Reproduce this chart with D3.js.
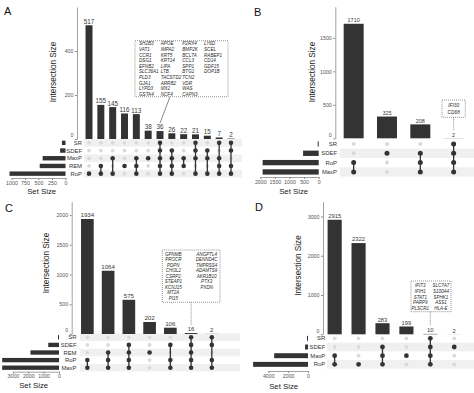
<!DOCTYPE html>
<html><head><meta charset="utf-8">
<script src="https://cdn.jsdelivr.net/npm/d3@7"></script>
<style>body{margin:0;background:#fff;} svg{display:block;font-family:Arial,"Liberation Sans",sans-serif;}</style>
</head><body><svg id="c" width="474" height="393"></svg>
<script>
// ---------- Panel A ----------
const setsA = ["SR","SDEF","MaxP","REM","RoP"];
const setSizesA = [66,100,423,477,1037];
const countsA = [517,155,145,116,113,38,36,26,22,21,15,7,2];
const membersA = [["RoP"],["REM","RoP"],["MaxP","RoP"],["REM"],["MaxP","REM","RoP"],["MaxP"],
  ["SR","SDEF","MaxP","REM","RoP"],["SDEF","MaxP","REM","RoP"],["MaxP","REM"],
  ["SR","SDEF","MaxP","RoP"],["SDEF","MaxP","RoP"],["SR","MaxP","REM","RoP"],["SR","SDEF","REM","RoP"]];
const yTicksA = [0,200,400];
const sizeTicksA = [1000,750,500,250,0];
const genesA = [["SH2B3","VAT1","CCR1","DSG1","EFNB2","SLC36A1","PLD3","GJA1","LYPD3","GSTA4"],
  ["APOE","IMPA2","KRT5","KRT14","LIPA","LTB","TACSTD2","ARRB2","MX2","NCF4"],
  ["P2RX4","BMP2K","BCL7A","CCL3","SPP1","BTG1","TCN2","VDR","WAS","CAPN3"],
  ["LY6D","SCEL","RABEP1","CD14","GDF15","DOP1B"]];
// ---------- Panel B ----------
const setsB = ["SR","SDEF","RoP","MaxP"];
const setSizesB = [2,535,1920,1920];
const countsB = [1710,325,208,2];
const membersB = [["RoP","MaxP"],["SDEF"],["SDEF","RoP","MaxP"],["SR","SDEF","RoP","MaxP"]];
const yTicksB = [0,500,1000,1500];
const sizeTicksB = [2000,1500,1000,500,0];
const genesB = [["IFI30","CD68"]];
// ---------- Panel C ----------
const setsC = ["SR","SDEF","REM","RoP","MaxP"];
const setSizesC = [18,699,1857,3697,3697];
const countsC = [1934,1064,575,202,106,16,2];
const membersC = [["RoP","MaxP"],["REM","RoP","MaxP"],["SDEF","REM","RoP","MaxP"],["REM"],
  ["SDEF","RoP","MaxP"],["SR","SDEF","REM","RoP","MaxP"],["SR","SDEF","RoP","MaxP"]];
const yTicksC = [0,500,1000,1500,2000];
const sizeTicksC = [3000,2000,1000,0];
const genesC = [["GPNMB","PROCR","PDPN","CHI3L2","CSRP2","STEAP1","KCNJ15","MT2A","PI15"],
  ["ANGPTL4","DENND4C","TMPRSS4","ADAMTS9","AKR1B10","PTX3","PXDN"]];
// ---------- Panel D ----------
const setsD = ["SR","SDEF","MaxP","RoP"];
const setSizesD = [10,295,3407,5530];
const countsD = [2915,2322,283,199,10,2];
const membersD = [["MaxP","RoP"],["RoP"],["SDEF","MaxP","RoP"],["MaxP"],["SR","SDEF","MaxP","RoP"],["SDEF"]];
const yTicksD = [0,1000,2000,3000];
const sizeTicksD = [4000,2000,0];
const genesD = [["IFIT3","IFIH1","STAT1","PARP9","PLSCR1"],["SLC7A7","S100A4","SPHK1","ASS1","HLA-E"]];

const svg = d3.select("#c");
const DARK = "#333333";
const fmt = d3.format("d");

function drawUpset(d, L){
  const g = svg.append("g");
  g.append("text").attr("x",L.lx).attr("y",L.ly).text(L.letter)
    .attr("font-size",11).attr("fill","#111");
  const n = d.counts.length;
  const x = d3.scaleBand().domain(d3.range(n)).range(L.colRange).paddingInner(L.pad).paddingOuter(L.pad/2);
  const y = d3.scaleLinear().domain([0,L.yMax]).range([L.base,L.top]);
  const rows = d3.scaleBand().domain(d.sets).range(L.rowRange);
  const sx = d3.scaleLinear().domain([0,L.sizeMax]).range(L.sizeRange);
  const cy = s => rows(s) + rows.bandwidth()/2;

  // stripes
  d.sets.forEach((s,i)=>{
    if((d.sets.length-1-i)%2===0)
      g.append("rect").attr("class","stripe").attr("x",L.stripe[0]).attr("width",L.stripe[1]-L.stripe[0])
        .attr("y",rows(s)).attr("height",rows.bandwidth()).attr("fill","#f0f0f0");
  });

  // y axis
  const ya = g.append("g").attr("transform",`translate(${L.axisX},0)`)
    .call(d3.axisLeft(y).tickValues(d.yTicks).tickFormat(fmt).tickSize(2).tickSizeOuter(0).tickPadding(1.5));
  ya.select(".domain").attr("stroke","#8a8a8a").attr("stroke-width",0.8);
  ya.selectAll(".tick line").attr("stroke","#8a8a8a");
  ya.selectAll("text").attr("font-size",5.3).attr("fill","#555").attr("font-family","Arial");
  ya.selectAll(".tick").filter(v=>v===0).select("text").attr("dy","-0.4em");

  g.append("text").attr("transform",`translate(${L.yTitle[0]},${L.yTitle[1]}) rotate(-90)`)
    .attr("text-anchor","middle").attr("dominant-baseline","central")
    .attr("font-size",8.2).attr("fill","#222").text("Intersection Size");

  // bars
  g.selectAll("rect.bar").data(d.counts).join("rect").attr("class","bar")
    .attr("x",(v,i)=>x(i)).attr("width",x.bandwidth())
    .attr("y",v=>y(v)).attr("height",v=>L.base-y(v)).attr("fill",DARK);
  g.selectAll("text.bl").data(d.counts).join("text").attr("class","bl")
    .attr("x",(v,i)=>x(i)+x.bandwidth()/2).attr("y",v=>y(v)-1.6)
    .attr("text-anchor","middle").attr("font-size",L.lf).attr("fill","#3a3a3a").text(v=>v);

  // matrix
  d.members.forEach((m,i)=>{
    const cx = x(i)+x.bandwidth()/2;
    d.sets.forEach(s=>{
      if(!m.includes(s)) g.append("circle").attr("cx",cx).attr("cy",cy(s)).attr("r",L.r*0.8).attr("fill","#dadada");
    });
    const ys = m.map(cy);
    if(m.length>1) g.append("line").attr("x1",cx).attr("x2",cx)
      .attr("y1",d3.min(ys)).attr("y2",d3.max(ys)).attr("stroke",DARK).attr("stroke-width",1.3);
    m.forEach(s=>g.append("circle").attr("cx",cx).attr("cy",cy(s)).attr("r",L.r).attr("fill",DARK));
  });

  // row labels
  d.sets.forEach(s=>g.append("text").attr("x",L.labelX).attr("y",cy(s)).attr("text-anchor","end")
    .attr("dominant-baseline","central").attr("font-size",5.9).attr("fill","#333").text(s));

  // set size bars
  const bh = rows.bandwidth()*0.57;
  g.selectAll("rect.sb").data(d.setSizes).join("rect").attr("class","sb")
    .attr("x",v=>Math.min(sx(v), sx(0)-1)).attr("width",v=>Math.max(1, sx(0)-sx(v)))
    .attr("y",(v,i)=>cy(d.sets[i])-bh/2).attr("height",bh).attr("fill",DARK);
  const sa = g.append("g").attr("transform",`translate(0,${L.sizeAxisY})`)
    .call(d3.axisBottom(sx).tickValues(d.sizeTicks).tickFormat(fmt).tickSize(2).tickSizeOuter(0).tickPadding(1));
  sa.select(".domain").attr("stroke","#8a8a8a").attr("stroke-width",0.8);
  sa.selectAll(".tick line").attr("stroke","#8a8a8a");
  sa.selectAll("text").attr("font-size",5.3).attr("fill","#555").attr("font-family","Arial");
  g.append("text").attr("x",L.sizeTitle[0]).attr("y",L.sizeTitle[1]).attr("text-anchor","middle")
    .attr("dominant-baseline","central").attr("font-size",7.8).attr("fill","#222").text("Set Size");

  // annotation box
  const B = L.box;
  g.append("rect").attr("x",B.x).attr("y",B.y).attr("width",B.w).attr("height",B.h)
    .attr("fill","#fff").attr("stroke","#666").attr("stroke-width",0.7).attr("stroke-dasharray","1,1");
  d.genes.forEach((col,ci)=>{
    col.forEach((gname,ri)=>{
      g.append("text").attr("x",B.cols[ci]).attr("y",B.row0+ri*B.dy)
        .attr("text-anchor",B.anchor).attr("dominant-baseline","central")
        .attr("font-size",B.fs).attr("font-style","italic").attr("fill","#2a2a2a").text(gname);
    });
  });
  const tx = x(L.target)+x.bandwidth()/2;
  const ty = y(d.counts[L.target]) - 8;
  g.append("line").attr("x1",L.pointerX===undefined?tx:L.pointerX).attr("y1",B.y+B.h)
    .attr("x2",tx).attr("y2",ty).attr("stroke","#555").attr("stroke-width",0.7)
    .attr("stroke-dasharray",L.pointerDash||null);
}

drawUpset({sets:setsA,setSizes:setSizesA,counts:countsA,members:membersA,yTicks:yTicksA,sizeTicks:sizeTicksA,genes:genesA},
  {letter:"A",lx:4,ly:15,axisX:77,top:7,base:139,yMax:600,colRange:[83.1,236.9],pad:0.41,
   rowRange:[139,177.5],sizeRange:[65.5,11.5],sizeMax:1000,sizeAxisY:178,sizeTitle:[41.7,191],
   yTitle:[53,72],stripe:[84,242],labelX:82,r:2.3,lf:6.3,target:6,pointerX:170,
   box:{x:135,y:40.7,w:93,h:56,cols:[139,160.7,182.3,204],row0:43.8,dy:5.6,fs:4.6,anchor:"start"}});

drawUpset({sets:setsB,setSizes:setSizesB,counts:countsB,members:membersB,yTicks:yTicksB,sizeTicks:sizeTicksB,genes:genesB},
  {letter:"B",lx:254,ly:16,axisX:335.3,top:6.7,base:138.3,yMax:1965,colRange:[337,470.3],pad:0.4,
   rowRange:[139.3,176.6],sizeRange:[318.7,260.3],sizeMax:2000,sizeAxisY:177,sizeTitle:[293.7,191.5],
   yTitle:[312,72],stripe:[340,474],labelX:337,r:2.5,lf:5.5,target:3,pointerDash:"1,1",
   box:{x:442,y:100,w:23.3,h:17.3,cols:[453.7],row0:105.8,dy:6.6,fs:4.8,anchor:"middle"}});

drawUpset({sets:setsC,setSizes:setSizesC,counts:countsC,members:membersC,yTicks:yTicksC,sizeTicks:sizeTicksC,genes:genesC},
  {letter:"C",lx:5,ly:211.5,axisX:71.7,top:201.7,base:334,yMax:2225,colRange:[77,222.2],pad:0.39,
   rowRange:[333.5,371.5],sizeRange:[59,12.9],sizeMax:3000,sizeAxisY:371.7,sizeTitle:[33.7,385.5],
   yTitle:[46.7,263],stripe:[80,240],labelX:76.5,r:2.3,lf:6.2,target:5,pointerDash:"1,1",
   box:{x:162.3,y:250,w:57.7,h:52.3,cols:[173.3,206.7],row0:254.2,dy:5.5,fs:4.5,anchor:"middle"}});

drawUpset({sets:setsD,setSizes:setSizesD,counts:countsD,members:membersD,yTicks:yTicksD,sizeTicks:sizeTicksD,genes:genesD},
  {letter:"D",lx:255,ly:211,axisX:323,top:201.7,base:334.3,yMax:3375,colRange:[322.7,466.2],pad:0.41,
   rowRange:[334,368.7],sizeRange:[308,268.3],sizeMax:4000,sizeAxisY:371,sizeTitle:[283.7,386],
   yTitle:[298.7,265.5],stripe:[327,474],labelX:325.3,r:2.4,lf:5.8,target:4,pointerDash:"1,1",
   box:{x:411,y:281,w:40,h:30.7,cols:[420.3,441],row0:285.7,dy:5.65,fs:4.5,anchor:"middle"}});
</script></body></html>
